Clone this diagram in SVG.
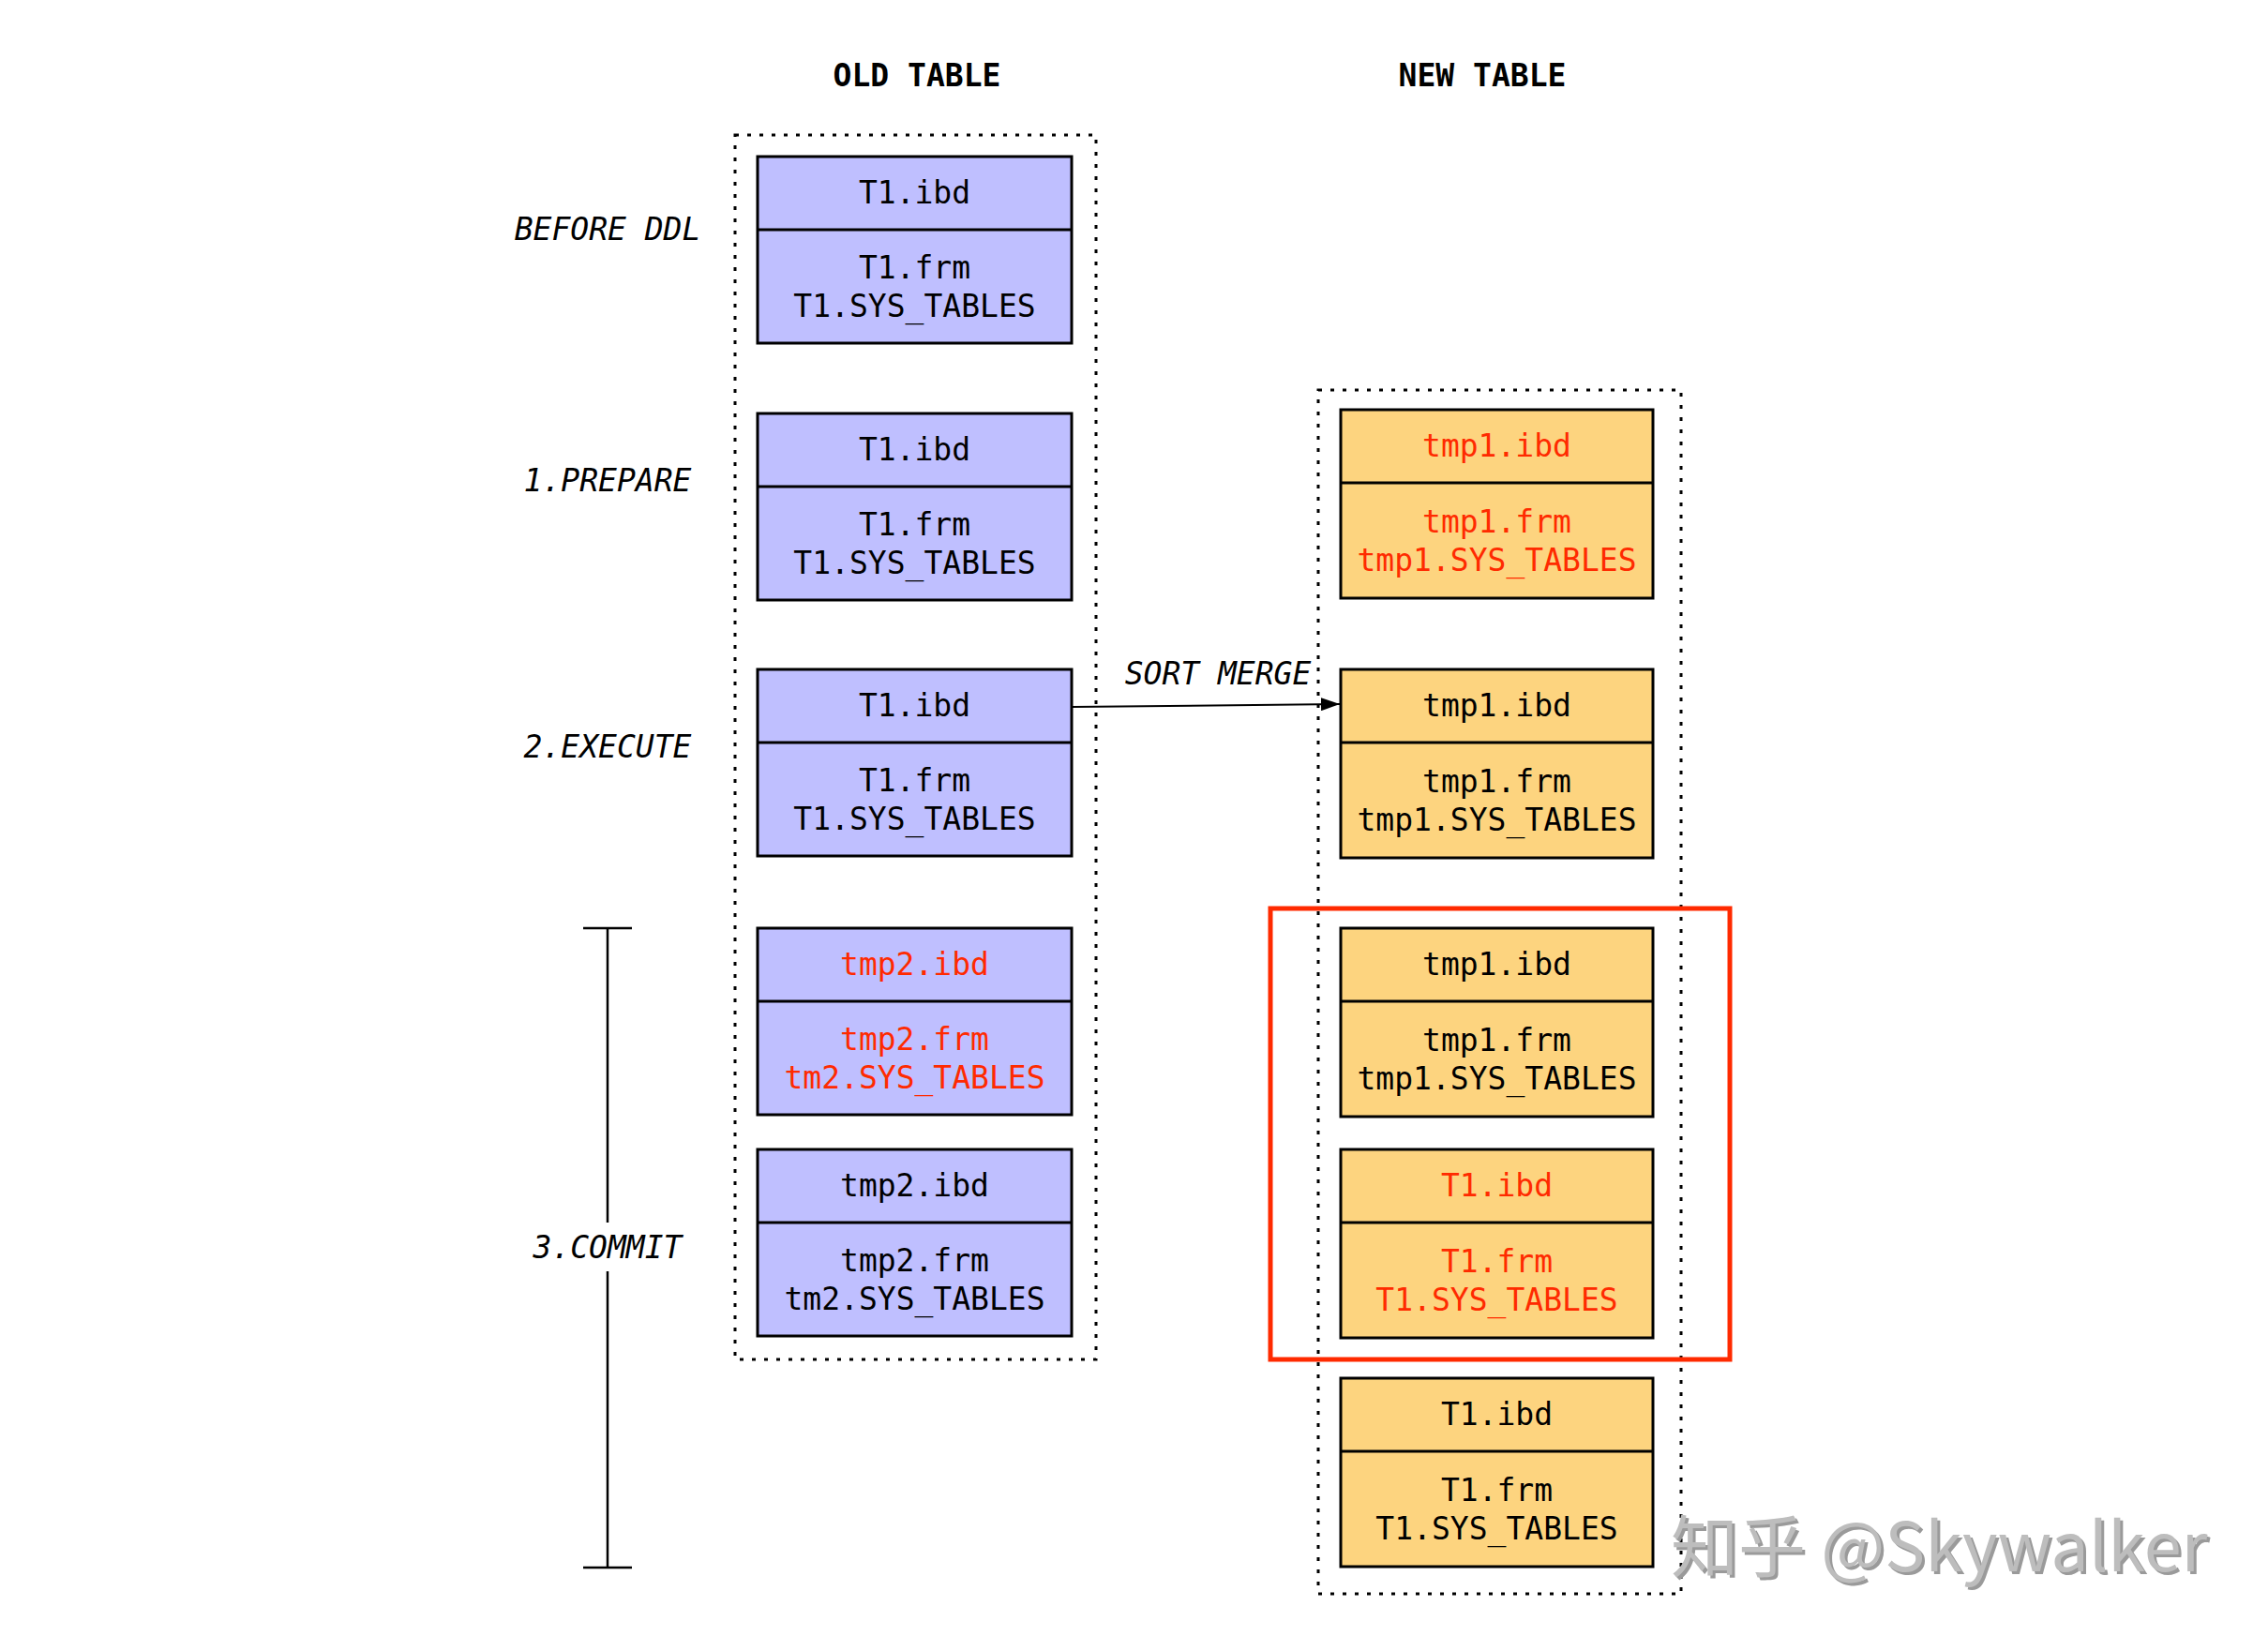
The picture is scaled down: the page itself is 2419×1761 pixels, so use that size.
<svg xmlns="http://www.w3.org/2000/svg" width="2419" height="1761" viewBox="0 0 2419 1761">
<defs>
<style>
.box{stroke:#000;stroke-width:3}
.old{fill:#BFBFFF}
.new{fill:#FDD47F}
.div{stroke:#000;stroke-width:3}
.t{font-family:"DejaVu Sans Mono","Liberation Mono",monospace;font-size:33px;text-anchor:middle;dominant-baseline:central;fill:#000}
.red{fill:#FF2A00}
.hdr{font-family:"DejaVu Sans Mono","Liberation Mono",monospace;font-size:33px;font-weight:bold;text-anchor:middle;dominant-baseline:central;fill:#000}
.lbl{font-family:"DejaVu Sans Mono","Liberation Mono",monospace;font-size:33px;font-style:italic;text-anchor:middle;dominant-baseline:central;fill:#000}
.dot{fill:none;stroke:#000;stroke-width:3;stroke-dasharray:4 9}
.wm{font-family:"Noto Sans CJK SC","Noto Sans",sans-serif;font-size:72px;fill:#BDBDBD}
</style>
<marker id="ah" markerWidth="20" markerHeight="14" refX="20" refY="7" orient="auto" markerUnits="userSpaceOnUse">
<path d="M0,0 L20,7 L0,14 Z" fill="#000"/>
</marker>
</defs>
<rect width="2419" height="1761" fill="#fff"/>

<text class="hdr" x="978" y="80">OLD TABLE</text>
<text class="hdr" x="1581" y="80">NEW TABLE</text>

<rect class="dot" x="784" y="144" width="385" height="1306"/>
<rect class="dot" x="1406" y="416" width="387" height="1284"/>

<text class="lbl" x="648" y="244">BEFORE DDL</text>
<text class="lbl" x="648" y="512">1.PREPARE</text>
<text class="lbl" x="648" y="796">2.EXECUTE</text>
<text class="lbl" x="648" y="1330">3.COMMIT</text>

<g id="old1" transform="translate(808,167)">
<rect class="box old" width="335" height="199"/><line class="div" x1="0" y1="78" x2="335" y2="78"/>
<text class="t" x="167.5" y="38">T1.ibd</text><text class="t" x="167.5" y="118">T1.frm</text><text class="t" x="167.5" y="159">T1.SYS_TABLES</text>
</g>
<g id="old2" transform="translate(808,441)">
<rect class="box old" width="335" height="199"/><line class="div" x1="0" y1="78" x2="335" y2="78"/>
<text class="t" x="167.5" y="38">T1.ibd</text><text class="t" x="167.5" y="118">T1.frm</text><text class="t" x="167.5" y="159">T1.SYS_TABLES</text>
</g>
<g id="old3" transform="translate(808,714)">
<rect class="box old" width="335" height="199"/><line class="div" x1="0" y1="78" x2="335" y2="78"/>
<text class="t" x="167.5" y="38">T1.ibd</text><text class="t" x="167.5" y="118">T1.frm</text><text class="t" x="167.5" y="159">T1.SYS_TABLES</text>
</g>
<g id="old4" transform="translate(808,990)">
<rect class="box old" width="335" height="199"/><line class="div" x1="0" y1="78" x2="335" y2="78"/>
<text class="t red" x="167.5" y="38">tmp2.ibd</text><text class="t red" x="167.5" y="118">tmp2.frm</text><text class="t red" x="167.5" y="159">tm2.SYS_TABLES</text>
</g>
<g id="old5" transform="translate(808,1226)">
<rect class="box old" width="335" height="199"/><line class="div" x1="0" y1="78" x2="335" y2="78"/>
<text class="t" x="167.5" y="38">tmp2.ibd</text><text class="t" x="167.5" y="118">tmp2.frm</text><text class="t" x="167.5" y="159">tm2.SYS_TABLES</text>
</g>

<g id="new1" transform="translate(1430,437)">
<rect class="box new" width="333" height="201"/><line class="div" x1="0" y1="78" x2="333" y2="78"/>
<text class="t red" x="166.5" y="38">tmp1.ibd</text><text class="t red" x="166.5" y="119">tmp1.frm</text><text class="t red" x="166.5" y="160">tmp1.SYS_TABLES</text>
</g>
<g id="new2" transform="translate(1430,714)">
<rect class="box new" width="333" height="201"/><line class="div" x1="0" y1="78" x2="333" y2="78"/>
<text class="t" x="166.5" y="38">tmp1.ibd</text><text class="t" x="166.5" y="119">tmp1.frm</text><text class="t" x="166.5" y="160">tmp1.SYS_TABLES</text>
</g>
<g id="new3" transform="translate(1430,990)">
<rect class="box new" width="333" height="201"/><line class="div" x1="0" y1="78" x2="333" y2="78"/>
<text class="t" x="166.5" y="38">tmp1.ibd</text><text class="t" x="166.5" y="119">tmp1.frm</text><text class="t" x="166.5" y="160">tmp1.SYS_TABLES</text>
</g>
<g id="new4" transform="translate(1430,1226)">
<rect class="box new" width="333" height="201"/><line class="div" x1="0" y1="78" x2="333" y2="78"/>
<text class="t red" x="166.5" y="38">T1.ibd</text><text class="t red" x="166.5" y="119">T1.frm</text><text class="t red" x="166.5" y="160">T1.SYS_TABLES</text>
</g>
<g id="new5" transform="translate(1430,1470)">
<rect class="box new" width="333" height="201"/><line class="div" x1="0" y1="78" x2="333" y2="78"/>
<text class="t" x="166.5" y="38">T1.ibd</text><text class="t" x="166.5" y="119">T1.frm</text><text class="t" x="166.5" y="160">T1.SYS_TABLES</text>
</g>

<rect id="highlight" x="1355" y="969" width="490" height="481" fill="none" stroke="#FF2A00" stroke-width="5"/>

<g id="connectors">
<line x1="1143" y1="754" x2="1429" y2="751" stroke="#000" stroke-width="2" marker-end="url(#ah)"/>
<text class="lbl" x="1299" y="718">SORT MERGE</text>
<g stroke="#000" stroke-width="2.5">
<line x1="622" y1="990" x2="674" y2="990"/>
<line x1="622" y1="1672" x2="674" y2="1672"/>
<line x1="648" y1="990" x2="648" y2="1304"/>
<line x1="648" y1="1356" x2="648" y2="1672"/>
</g>
</g>

<text class="wm" x="1785" y="1679" fill="#888" style="fill:#9a9a9a">知乎 @Skywalker</text>
<text class="wm" x="1782" y="1676">知乎 @Skywalker</text>
</svg>
